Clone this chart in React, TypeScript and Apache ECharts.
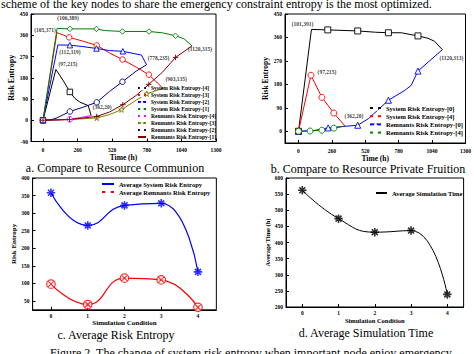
import React, { useEffect, useRef } from 'react';
import * as echarts from 'echarts';

const FONT = 'Liberation Serif';

// ---------- texts ----------
const topText = 'scheme of the key nodes to share the emergency constraint entropy is the most optimized.';
const bottomText = 'Figure 2. The change of system risk entropy when important node enjoy emergency';
const captionA = 'a. Compare to Resource Communion';
const captionB = 'b. Compare to Resource Private Fruition';
const captionC = 'c. Average Risk Entropy';
const captionD = 'd. Average Simulation Time';

// ---------- panel a : Compare to Resource Communion ----------
const timeTicks = [0, 260, 520, 780, 1040, 1300];
const aSys4 = [[0, 0], [97, 215], [150, 170], [202, 120], [240, 92], [277, 77], [340, 62], [362, 20]];
const aSys4Marks = [0, 3];
const aSys3 = [[0, 0], [105, 371], [197, 351], [300, 335], [404, 317], [500, 285], [598, 257], [700, 225], [795, 193], [903, 135]];
const aSys3Marks = [0, 2, 4, 6, 8];
const aSys2 = [[0, 0], [112, 319], [202, 318], [300, 312], [402, 304], [500, 295], [600, 292], [740, 276], [778, 235]];
const aSys2Marks = [0, 2, 4, 6];
const aSys1 = [[0, 0], [106, 389], [202, 387], [402, 387], [460, 380], [597, 376], [797, 376], [900, 370], [995, 358], [1060, 345], [1120, 315]];
const aSys1Marks = [0, 2, 3, 5, 6, 8];
const aRem4 = [[0, 0], [100, 1], [202, 4], [290, 12], [362, 20]];
const aRem4Marks = [0, 2];
const aRem3 = [[0, 0], [202, 3], [404, 10], [500, 24], [590, 45], [700, 85], [780, 112], [903, 135]];
const aRem3Marks = [0, 2, 4, 6];
const aRem2 = [[0, 0], [60, 2], [105, 10], [202, 37], [300, 55], [404, 76], [500, 122], [597, 163], [700, 208], [778, 235]];
const aRem2Marks = [0, 3, 5, 7];
const aRem1 = [[0, 0], [200, 3], [404, 16], [500, 35], [600, 66], [700, 105], [795, 152], [900, 205], [996, 266], [1120, 315]];
const aRem1Marks = [0, 1, 2, 4, 6, 8];
const annA = [[106, 389], [105, 371], [112, 319], [97, 215], [778, 235], [1120, 315], [903, 135], [362, 20]];

// ---------- panel b : Compare to Resource Private Fruition ----------
const bSys0 = [[0, 0], [101, 391], [228, 389], [461, 385], [600, 380], [700, 378], [800, 378], [930, 366], [1008, 357], [1060, 345], [1120, 313]];
const bSys0Marks = [0, 2, 3, 5, 7];
const bSys4 = [[0, 0], [97, 215], [182, 130], [275, 70], [362, 20]];
const bSys4Marks = [0, 1, 2, 3];
const bRem0 = [[0, 0], [120, 3], [231, 13], [360, 19], [461, 23], [546, 49], [700, 119], [828, 157], [877, 176], [930, 231], [1120, 313]];
const bRem0Marks = [0, 2, 4, 6, 9];
const bRem4 = [[0, 0], [90, 1], [182, 4], [275, 12], [362, 20]];
const bRem4Marks = [0, 1, 2, 3];
const annB = [[101, 391], [97, 215], [362, 20], [1120, 313]];

// ---------- panel c / d ----------
const conditions = [0, 1, 2, 3, 4];
const avgSystemRisk = [358, 265, 322, 328, 133];
const avgRemnantsRisk = [98, 40, 115, 110, 32];
const avgSimTime = [562, 474, 432, 437, 239];

// ---------- styling (not data) ----------
const annAOffsets = [[11, -10], [-12, -3], [12, 7], [12, -5], [12, -7], [8, 3], [13, -9], [11, -9]];
const annBOffsets = [[-9, -5], [16, -3], [9, -10], [9, 8]];

const STAR = 'path://M5 0L6.2 3.6L10 3.6L6.9 5.8L8.1 9.5L5 7.2L1.9 9.5L3.1 5.8L0 3.6L3.8 3.6Z';
const PLUS = 'path://M5 0L5 10M0 5L10 5';
const ASTER = 'path://M5 0L5 10M0 5L10 5M1.5 1.5L8.5 8.5M1.5 8.5L8.5 1.5';
const CIRCX = 'path://M10 5A5 5 0 1 1 0 5A5 5 0 1 1 10 5ZM1.46 1.46L8.54 8.54M8.54 1.46L1.46 8.54';

const seriesA = [
  { name: 'System Risk Entropy-[4]', pts: aSys4, marks: aSys4Marks, color: '#000000', symbol: 'rect' },
  { name: 'System Risk Entropy-[3]', pts: aSys3, marks: aSys3Marks, color: '#ff0000', symbol: 'circle' },
  { name: 'System Risk Entropy-[2]', pts: aSys2, marks: aSys2Marks, color: '#0000ff', symbol: 'triangle' },
  { name: 'System Risk Entropy-[1]', pts: aSys1, marks: aSys1Marks, color: '#008000', symbol: 'diamond' },
  { name: 'Remnants Risk Entropy-[4]', pts: aRem4, marks: aRem4Marks, color: '#ff00ff', symbol: 'circle' },
  { name: 'Remnants Risk Entropy-[3]', pts: aRem3, marks: aRem3Marks, color: '#808000', symbol: STAR },
  { name: 'Remnants Risk Entropy-[2]', pts: aRem2, marks: aRem2Marks, color: '#000080', symbol: 'circle' },
  { name: 'Remnants Risk Entropy-[1]', pts: aRem1, marks: aRem1Marks, color: '#800000', symbol: PLUS },
];
const seriesB = [
  { name: 'System Risk Entropy-[0]', pts: bSys0, marks: bSys0Marks, color: '#000000', symbol: 'rect' },
  { name: 'System Risk Entropy-[4]', pts: bSys4, marks: bSys4Marks, color: '#ff0000', symbol: 'circle' },
  { name: 'Remnants Risk Entropy-[0]', pts: bRem0, marks: bRem0Marks, color: '#0000ff', symbol: 'triangle' },
  { name: 'Remnants Risk Entropy-[4]', pts: bRem4, marks: bRem4Marks, color: '#008000', symbol: 'circle' },
];

const strip = (n: string) => n.split('|')[1];
const plain = (v: number) => String(v);

function buildOption() {
  const lbl = (size: number) => ({ fontFamily: FONT, fontWeight: 'bold', fontSize: size, color: '#000', margin: 3, formatter: plain });
  const axLine = { show: true, onZero: false, lineStyle: { color: '#000', width: 1 } };
  const tick = { show: true, inside: true, length: 3, lineStyle: { color: '#000' } };
  const nameStyle = (size: number) => ({ fontFamily: FONT, fontWeight: 'bold', fontSize: size, color: '#000' });
  const grid = (left: number, top: number, width: number, height: number) => ({
    left, top, width, height, show: true, borderColor: '#000', borderWidth: 1, backgroundColor: 'transparent', containLabel: false,
  });

  const series: any[] = [];
  const addPanel = (list: any[], prefix: string, axis: number, size: number) => {
    list.forEach((s) => {
      series.push({
        type: 'line', name: prefix + s.name, xAxisIndex: axis, yAxisIndex: axis,
        data: s.pts, symbol: s.symbol, symbolSize: size, showSymbol: false,
        lineStyle: { color: s.color, width: 1 }, z: 2,
      });
    });
    list.forEach((s) => {
      series.push({
        type: 'scatter', xAxisIndex: axis, yAxisIndex: axis, silent: true, z: 3,
        data: s.pts.filter((_: any, i: number) => s.marks.indexOf(i) >= 0),
        symbol: s.symbol, symbolSize: size,
        itemStyle: { color: '#ffffff', borderColor: s.color, borderWidth: 0.9, opacity: 1 },
      });
    });
  };
  addPanel(seriesA, 'a|', 0, 5.5);
  addPanel(seriesB, 'b|', 1, 6);

  const annLabel = {
    show: true, position: 'inside', fontFamily: FONT, fontWeight: 'bold', fontSize: 5.5, color: '#000',
    formatter: (p: any) => `(${p.value[0]},${p.value[1]})`,
  };
  series.push({
    type: 'scatter', xAxisIndex: 0, yAxisIndex: 0, silent: true, symbolSize: 1, z: 10,
    itemStyle: { color: 'rgba(0,0,0,0)' }, label: annLabel,
    data: annA.map((p, i) => ({ value: p, label: { offset: annAOffsets[i] } })),
  });
  series.push({
    type: 'scatter', xAxisIndex: 1, yAxisIndex: 1, silent: true, symbolSize: 1, z: 10,
    itemStyle: { color: 'rgba(0,0,0,0)' }, label: annLabel,
    data: annB.map((p, i) => ({ value: p, label: { offset: annBOffsets[i] } })),
  });

  const smoothPanel = [
    { name: 'c|Average System Risk Entropy', axis: 2, vals: avgSystemRisk, color: '#0000ff', symbol: ASTER, bw: 1.6, lw: 1.2 },
    { name: 'c|Average Remnants Risk Entropy', axis: 2, vals: avgRemnantsRisk, color: '#ff0000', symbol: CIRCX, bw: 1.2, lw: 1.2 },
    { name: 'd|Average Simulation Time', axis: 3, vals: avgSimTime, color: '#000000', symbol: ASTER, bw: 1.6, lw: 1 },
  ];
  smoothPanel.forEach((s) => {
    const pts = conditions.map((c, i) => [c, s.vals[i]]);
    series.push({
      type: 'line', name: s.name, xAxisIndex: s.axis, yAxisIndex: s.axis, smooth: 0.5,
      data: pts, symbol: s.symbol, symbolSize: 8, showSymbol: false,
      lineStyle: { color: s.color, width: s.lw }, z: 2,
    });
    series.push({
      type: 'scatter', xAxisIndex: s.axis, yAxisIndex: s.axis, silent: true, z: 3,
      data: pts, symbol: s.symbol, symbolSize: 8.5,
      itemStyle: { color: '#ffffff', borderColor: s.color, borderWidth: s.bw },
    });
  });

  const legendBase = (size: number, bw: number) => ({
    orient: 'vertical', selectedMode: false, formatter: strip, padding: 0,
    itemStyle: { color: '#ffffff', borderWidth: bw },
    textStyle: { fontFamily: FONT, fontWeight: 'bold', fontSize: size, color: '#000' },
  });

  const text = (x: number, y: number, t: string, align: string, size = 12) => ({
    type: 'text', x, y, silent: true,
    style: { text: t, fill: '#000', fontFamily: FONT, fontSize: size, align, verticalAlign: 'middle' },
  });

  return {
    animation: false,
    backgroundColor: '#ffffff',
    grid: [
      grid(31, 14, 185, 127.5),
      grid(285, 14, 182.7, 129),
      grid(32.6, 178, 183.75, 131.8),
      grid(286, 178, 177.6, 129),
    ],
    xAxis: [
      {
        type: 'value', gridIndex: 0, min: -90, max: 1300, splitLine: { show: false }, axisLine: axLine,
        axisTick: { ...tick, customValues: timeTicks }, axisLabel: { ...lbl(5.5), margin: 5, customValues: timeTicks },
        name: 'Time (h)', nameLocation: 'middle', nameGap: 6.5, nameTextStyle: nameStyle(7.5),
      },
      {
        type: 'value', gridIndex: 1, min: -105, max: 1300, splitLine: { show: false }, axisLine: axLine,
        axisTick: { ...tick, customValues: timeTicks }, axisLabel: { ...lbl(5.5), margin: 5, customValues: timeTicks },
        name: 'Time (h)', nameLocation: 'middle', nameGap: 9, nameTextStyle: nameStyle(7.5),
      },
      {
        type: 'value', gridIndex: 2, min: -0.5, max: 4.5, splitLine: { show: false }, axisLine: axLine,
        axisTick: { ...tick, customValues: conditions }, axisLabel: { ...lbl(5.5), customValues: conditions },
        name: 'Simulation Condition', nameLocation: 'middle', nameGap: 8.5, nameTextStyle: nameStyle(7),
      },
      {
        type: 'value', gridIndex: 3, min: -0.45, max: 4.45, splitLine: { show: false }, axisLine: axLine,
        axisTick: { ...tick, customValues: conditions }, axisLabel: { ...lbl(5.5), customValues: conditions },
        name: 'Simulation Condition', nameLocation: 'middle', nameGap: 9, nameTextStyle: nameStyle(6.5),
      },
    ],
    yAxis: [
      {
        type: 'value', gridIndex: 0, min: -90, max: 450, interval: 90, splitLine: { show: false }, axisLine: axLine,
        axisTick: tick, axisLabel: lbl(5.5),
        name: 'Risk Entropy', nameLocation: 'middle', nameGap: 12, nameTextStyle: nameStyle(8),
      },
      {
        type: 'value', gridIndex: 1, min: -45, max: 450, splitLine: { show: false }, axisLine: axLine,
        axisTick: { ...tick, customValues: [0, 90, 180, 270, 360, 450] },
        axisLabel: { ...lbl(5.5), customValues: [0, 90, 180, 270, 360, 450] },
        name: 'Risk Entropy', nameLocation: 'middle', nameGap: 13, nameTextStyle: nameStyle(7.5),
      },
      {
        type: 'value', gridIndex: 2, min: 25, max: 400, splitLine: { show: false }, axisLine: axLine,
        axisTick: { ...tick, customValues: [50, 100, 150, 200, 250, 300, 350, 400] },
        axisLabel: { ...lbl(5.5), customValues: [50, 100, 150, 200, 250, 300, 350, 400] },
        name: 'Risk Entropy', nameLocation: 'middle', nameGap: 13.5, nameTextStyle: nameStyle(7),
      },
      {
        type: 'value', gridIndex: 3, min: 200, max: 600, interval: 50, splitLine: { show: false }, axisLine: axLine,
        axisTick: tick, axisLabel: lbl(5.5),
        name: 'Average Time (h)', nameLocation: 'middle', nameGap: 14.5, nameTextStyle: nameStyle(6.5),
      },
    ],
    legend: [
      { ...legendBase(5.5, 0.9), left: 137, top: 85, itemWidth: 8, itemHeight: 5.5, itemGap: 1,
        data: seriesA.map((s) => 'a|' + s.name) },
      { ...legendBase(6.5, 0.9), left: 369, top: 104.5, itemWidth: 11, itemHeight: 6.5, itemGap: 1.2,
        data: seriesB.map((s) => 'b|' + s.name) },
      { ...legendBase(6.5, 1.3), left: 101, top: 180.5, itemWidth: 12, itemHeight: 7, itemGap: 1,
        data: ['c|Average System Risk Entropy', 'c|Average Remnants Risk Entropy'] },
      { ...legendBase(6.5, 1.3), left: 375, top: 189.5, itemWidth: 11, itemHeight: 7, itemGap: 1,
        data: ['d|Average Simulation Time'] },
    ],
    graphic: [
      text(1, 4.2, topText, 'left', 12),
      text(115, 167.5, captionA, 'center', 12),
      text(368, 169, captionB, 'center', 12),
      text(116, 335, captionC, 'center', 12),
      text(366, 333, captionD, 'center', 12),
      text(50, 352.5, bottomText, 'left', 12),
    ],
    series,
  };
}

export default function App() {
  const ref = useRef<HTMLDivElement>(null);
  useEffect(() => {
    if (!ref.current) return;
    const chart = echarts.init(ref.current, null, { renderer: 'svg' });
    chart.setOption(buildOption() as any);
    return () => chart.dispose();
  }, []);
  return (
    <div
      ref={ref}
      style={{ position: 'fixed', left: 0, top: 0, width: 474, height: 354, background: '#fff' }}
    />
  );
}
